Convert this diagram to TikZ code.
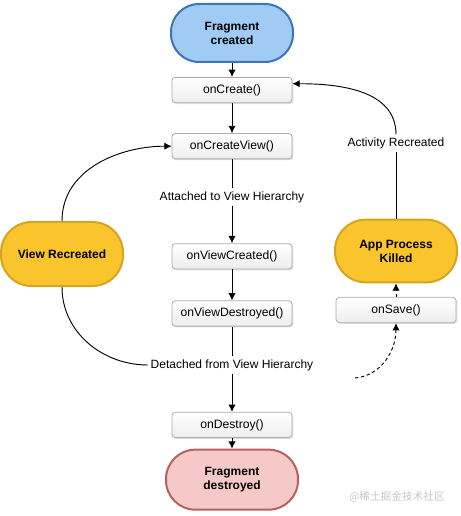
\documentclass[tikz,border=0pt]{standalone}
\usepackage{fontspec}
\setmainfont{Liberation Sans}
\newfontfamily\cjkfont{Noto Sans CJK SC}
\usepackage{tikz}
\usetikzlibrary{positioning,arrows.meta,shadows}
\definecolor{createdfill}{HTML}{A0CBF5}
\definecolor{createdline}{HTML}{3B75B6}
\definecolor{recreatefill}{HTML}{FAC52C}
\definecolor{recreateline}{HTML}{D6A41E}
\definecolor{destroyfill}{HTML}{F5C9C7}
\definecolor{destroyline}{HTML}{B5625F}
\tikzset{
  stage/.style={rectangle, draw, line width=1.5pt, rounded corners=21pt, align=center,
    minimum width=91.5pt, minimum height=43.5pt, inner sep=2pt,
    font=\fontsize{9}{10.5}\selectfont\bfseries},
  call/.style={rectangle, draw=gray!65, line width=0.6pt, rounded corners=2.5pt,
    top color=white, bottom color=gray!14, minimum width=90pt, minimum height=19pt,
    inner sep=2pt, font=\fontsize{9.1}{10.5}\selectfont,
    drop shadow={shadow xshift=1pt, shadow yshift=-1pt, opacity=0.25, fill=gray}},
  note/.style={inner sep=2pt, font=\fontsize{9}{10}\selectfont},
  flow/.style={-{Latex[length=5.5pt,width=5.5pt]}, line width=0.7pt},
}
\begin{document}
\begin{tikzpicture}[x=0.75pt, y=-0.75pt]
  \useasboundingbox (0,0) rectangle (460,516);
  % Main column
  \node[stage, fill=createdfill, draw=createdline] (fc) at (232,33) {Fragment\\created};
  \node[call, below=10.5pt of fc] (oc) {onCreate()};
  \node[call, below=22.5pt of oc] (ocv) {onCreateView()};
  \node[note] (attach) at (232,197) {Attached to View Hierarchy};
  \node[call, below=63pt of ocv] (ovc) {onViewCreated()};
  \node[call, below=23.25pt of ovc] (ovd) {onViewDestroyed()};
  \node[note] (detach) at (232,365) {Detached from View Hierarchy};
  \node[call, below=64pt of ovd] (od) {onDestroy()};
  \node[stage, fill=destroyfill, draw=destroyline, minimum width=99pt, minimum height=45pt,
    rounded corners=22pt, below=8pt of od] (fd) {Fragment\\destroyed};
  % Side nodes
  \node[stage, fill=recreatefill, draw=recreateline, minimum height=48pt, rounded corners=23pt] (vr) at (62,254) {View Recreated};
  \node[stage, fill=recreatefill, draw=recreateline, minimum height=47pt, rounded corners=23pt] (apk) at (396,251) {App Process\\Killed};
  \node[call] (os) at (396,310) {onSave()};
  \node[note] (activity) at (396,143) {Activity Recreated};
  \coordinate (saved) at (355,378);
  \node[text=gray!45, font=\cjkfont\fontsize{8}{9}\selectfont] (mark) at (397,497) {@稀土掘金技术社区};
  % Paths
  \draw[flow] (fc) -- (oc);
  \draw[flow] (oc) -- (ocv);
  \draw[line width=0.7pt] (ocv) -- (attach);
  \draw[flow] (attach) -- (ovc);
  \draw[flow] (ovc) -- (ovd);
  \draw[line width=0.7pt] (ovd) -- (detach);
  \draw[flow] (detach) -- (od);
  \draw[flow] (od) -- (fd);
  \draw[flow] (vr.north) to[out=90, in=180] (ocv.west);
  \draw[line width=0.7pt] (detach.west) to[out=180, in=270] (vr.south);
  \draw[line width=0.7pt] (apk) -- (activity);
  \draw[flow] (activity.north) to[out=90, in=0] (oc.6);
  \draw[flow, dashed, dash pattern=on 2.5pt off 2pt] (os) -- (apk);
  \draw[flow, dashed, dash pattern=on 2.5pt off 2pt] (saved) to[out=5, in=270] (os.south);
\end{tikzpicture}
\end{document}
